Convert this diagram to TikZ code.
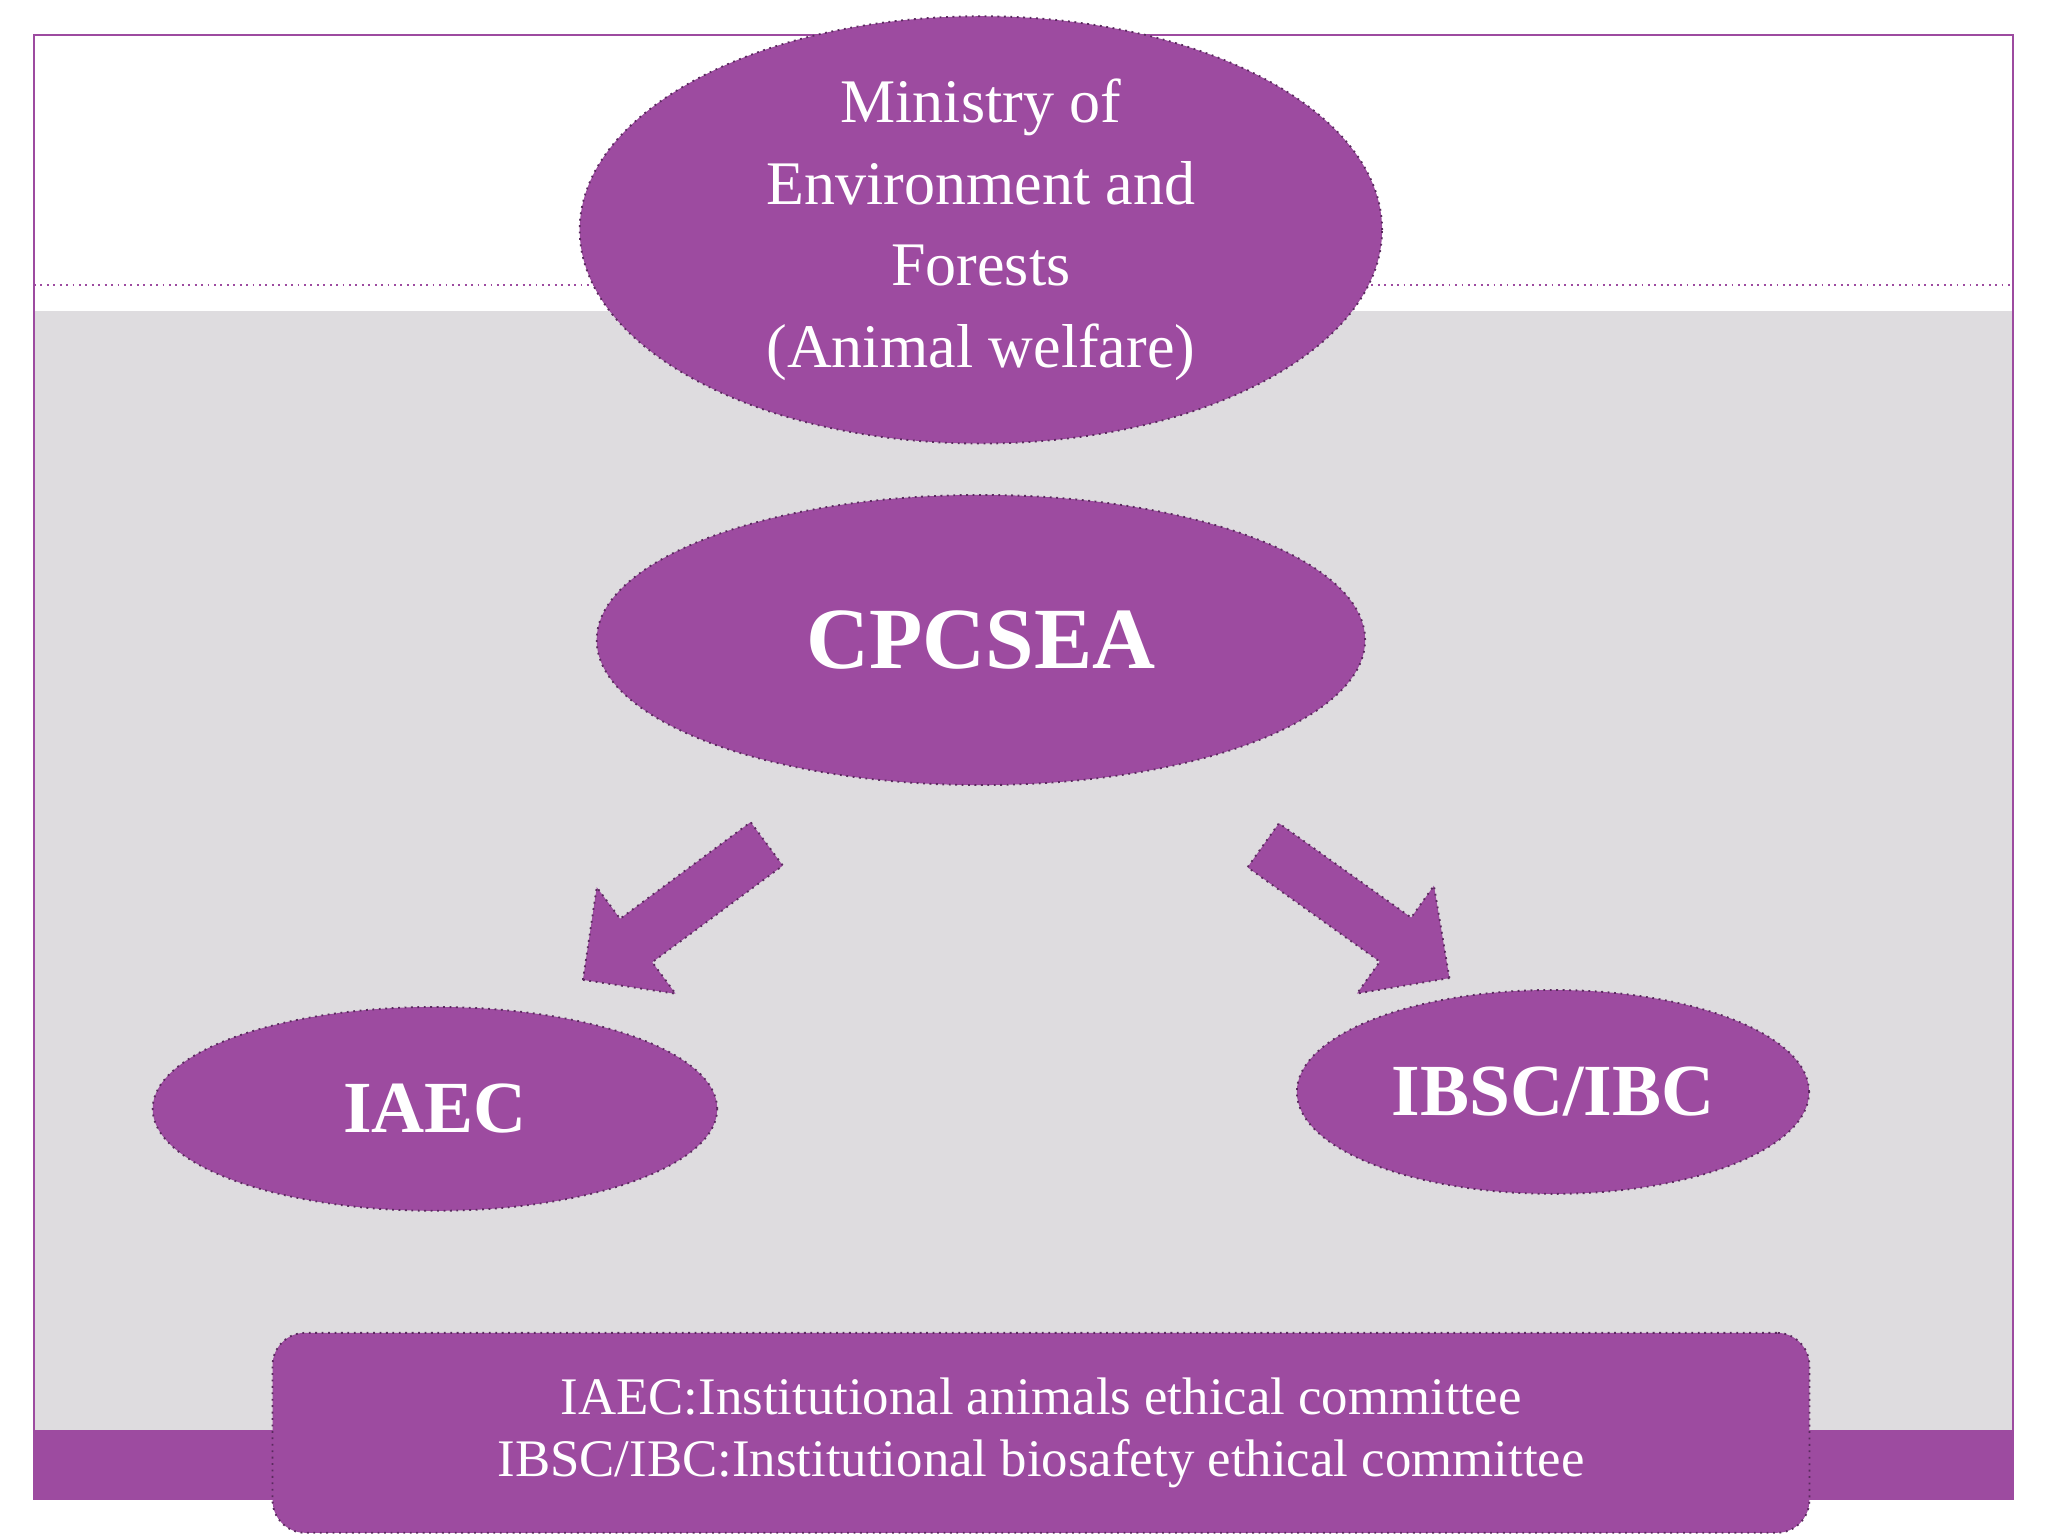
\documentclass[tikz,border=0pt]{standalone}
\usepackage{fontspec}
\setmainfont{Liberation Serif}
\usetikzlibrary{shapes.geometric,shapes.arrows}
\definecolor{pur}{HTML}{9D4BA0}
\definecolor{gr}{HTML}{DEDCDF}
\definecolor{edge}{HTML}{5A2A5E}
\begin{document}
\begin{tikzpicture}[x=0.01cm,y=-0.01cm,
  ell/.style={ellipse,fill=pur,draw=edge,densely dotted,thin,text=white,align=center,inner sep=0},
  barrow/.style={single arrow,fill=pur,draw=edge,densely dotted,thin,inner sep=0.2cm,minimum width=1.0cm,single arrow head extend=0.3cm,minimum height=1.75cm}]
\useasboundingbox (0,0) rectangle (1568,1176);
\fill[white] (0,0) rectangle (1568,1176);
\fill[gr] (26,238) rectangle (1541,1095);
\fill[pur] (26,1095) rectangle (1541,1148);
\draw[pur,thin] (26,27) rectangle (1541,1148);
\draw[pur,densely dotted] (26,218) -- (1541,218);
\node[ell,minimum width=6.14cm,minimum height=3.0cm,font=\fontsize{13.5}{17.8}\selectfont] (min) at (751,176) {Ministry of\\Environment and\\Forests\\(Animal welfare)};
\node[ell,minimum width=5.88cm,minimum height=2.22cm,font=\fontsize{19}{22}\selectfont\bfseries] (cp) at (751,490) {CPCSEA};
\node[ell,minimum width=4.32cm,minimum height=1.56cm,font=\fontsize{16}{19}\selectfont\bfseries] (ia) at (333,849) {IAEC};
\node[ell,minimum width=3.92cm,minimum height=1.56cm,font=\fontsize{16}{19}\selectfont\bfseries] (ib) at (1189,836) {IBSC/IBC};
\node[barrow,rotate=216.5] (a1) at (525,692) {};
\node[barrow,rotate=-35.5] (a2) at (1030,692) {};
\node[fill=pur,draw=edge,densely dotted,thin,rounded corners=0.25cm,minimum width=11.76cm,minimum height=1.53cm,text=white,align=center,font=\fontsize{11.5}{13.4}\selectfont] (leg) at (797,1097) {IAEC:Institutional animals ethical committee\\IBSC/IBC:Institutional biosafety ethical committee};
\end{tikzpicture}
\end{document}
